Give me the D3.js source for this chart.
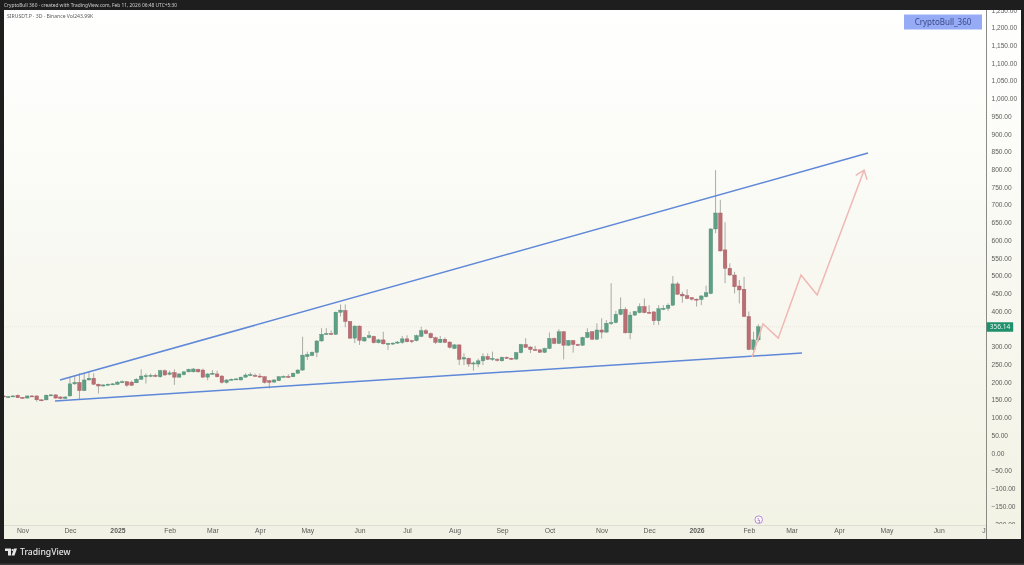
<!DOCTYPE html>
<html>
<head>
<meta charset="utf-8">
<script src="https://cdn.jsdelivr.net/npm/d3@7"></script>
<style>
  html, body { margin: 0; padding: 0; background: #1e1e1e; overflow: hidden; }
  svg { display: block; filter: blur(0.45px); font-family: "Noto Sans", "DejaVu Sans", sans-serif; }
</style>
</head>
<body>
<svg></svg>
<script>
let width = 1024
let height = 565

// 3D candles
let opens = [
  161,158,159,163,157,155,161,161,150,150,
  163,164,158,154,161,195,199,176,206,211,
  194,189,192,194,194,200,201,200,198,208,
  217,218,219,215,232,222,227,214,221,229,
  229,236,234,214,223,223,217,199,206,208,
  206,214,220,219,217,215,204,200,204,215,
  216,215,225,234,272,275,284,316,335,337,
  335,397,402,371,324,358,316,326,329,311,
  319,308,309,310,312,322,317,317,329,345,
  337,325,312,321,313,295,305,265,267,251,
  251,260,272,264,264,260,270,267,265,283,
  306,299,292,291,284,295,323,309,342,304,
  317,306,304,326,342,321,347,341,366,368,
  391,405,339,389,396,413,397,398,373,405,
  408,417,477,448,444,438,434,433,441,450,
  632,677,573,521,502,471,462,385,292,319
]
let highs = [
  163,161,163,165,158,162,163,162,151,165,
  166,165,160,160,215,220,225,225,229,225,
  196,194,196,197,203,205,203,204,211,236,
  224,224,224,235,236,232,236,225,230,238,
  240,238,238,225,234,232,220,208,210,211,
  215,225,227,224,224,217,206,208,217,219,
  222,227,236,328,286,287,318,352,352,346,
  399,419,419,372,360,360,328,344,331,322,
  342,311,312,316,330,332,319,334,356,350,
  340,328,330,326,315,307,306,281,269,258,
  266,281,281,286,268,272,272,269,285,308,
  324,301,302,293,297,340,326,349,344,319,
  319,308,328,352,344,366,380,375,479,401,
  439,411,398,401,422,436,417,400,417,417,
  422,499,483,455,462,440,436,445,472,634,
  798,714,651,535,511,488,497,399,342,363
]
let lows = [
  156,157,158,155,153,154,158,145,146,148,
  161,153,152,153,159,192,150,175,205,192,
  168,187,190,192,192,197,187,189,197,206,
  196,214,214,212,218,219,192,212,219,227,
  227,226,211,205,220,213,196,196,204,206,
  205,212,217,215,212,196,182,198,203,213,
  212,214,224,232,262,273,270,314,333,333,
  333,385,355,322,310,305,314,323,309,309,
  306,291,305,308,308,312,310,315,327,335,
  323,308,310,310,295,293,248,248,243,232,
  242,248,262,260,258,258,265,263,263,281,
  296,282,288,282,282,293,307,307,264,302,
  283,302,302,324,319,319,323,339,361,366,
  389,337,321,387,394,394,392,361,361,403,
  401,415,446,424,434,430,413,417,439,448,
  620,568,479,500,450,422,383,290,272,314
]
let closes = [
  158,159,161,156,155,161,160,150,149,163,
  164,155,154,158,195,199,176,206,211,194,
  189,192,194,195,200,201,191,191,208,217,
  218,219,217,232,220,226,214,223,229,236,
  237,229,214,223,225,215,199,206,208,209,
  214,220,221,217,215,199,199,206,215,216,
  215,225,234,276,278,284,316,335,337,335,
  397,403,371,324,358,318,326,331,311,319,
  308,309,310,313,322,314,315,331,345,337,
  325,312,321,312,298,305,264,269,251,254,
  260,272,264,267,262,270,267,266,283,306,
  298,292,291,284,295,323,309,342,304,317,
  306,304,326,340,321,347,341,366,368,391,
  405,339,389,399,413,396,395,373,407,408,
  417,477,448,443,436,434,432,443,452,632,
  677,570,521,502,469,460,385,292,319,356
]

let lastPrice = 356.14

// axis labels
let priceTicks = [-200,-150,-100,-50,0,50,100,150,200,250,300,400,450,500,550,600,650,700,750,800,850,900,950,1000,1050,1100,1150,1200,1250]
let timeTickIndex = [4,14,24,35,44,54,64,75,85,95,105,115,126,136,146,157,166,176,186,197,207]
let timeTickLabels = ["Nov","Dec","2025","Feb","Mar","Apr","May","Jun","Jul","Aug","Sep","Oct","Nov","Dec","2026","Feb","Mar","Apr","May","Jun","Jul"]

// drawings: [candle index, price]
let upperLine = [[11.9,206],[182.1,846]]
let lowerLine = [[10.85,147],[168.2,282]]
let projection = [[157.7,271],[160,364],[163.2,324],[168,502],[171.4,446],[181.3,798]]

let svg = d3.select("svg").attr("width", width).attr("height", height)

let xScale = d3.scaleLinear().domain([0, 159]).range([3.5, 758.3])
let yScale = d3.scaleLinear().domain([0, 1200]).range([453, 27.6])

let defs = svg.append("defs")
let grad = defs.append("linearGradient").attr("id", "bg").attr("x1", 0).attr("y1", 0).attr("x2", 0).attr("y2", 1)
grad.append("stop").attr("offset", "0%").attr("stop-color", "#ffffff")
grad.append("stop").attr("offset", "100%").attr("stop-color", "#f2f2e5")

defs.append("clipPath").attr("id", "pane").append("rect")
  .attr("x", 4).attr("y", 10).attr("width", 982.5).attr("height", 515)
defs.append("clipPath").attr("id", "priceClip").append("rect")
  .attr("x", 0).attr("y", 10).attr("width", 40).attr("height", 514)
defs.append("clipPath").attr("id", "timeClip").append("rect")
  .attr("x", 4).attr("y", 0).attr("width", 982).attr("height", 14)

// backgrounds
svg.append("rect").attr("width", width).attr("height", height).attr("fill", "#1e1e1e")
svg.append("rect").attr("x", 4).attr("y", 10).attr("width", 1017).attr("height", 515).attr("fill", "url(#bg)")
svg.append("rect").attr("x", 4).attr("y", 525).attr("width", 1017).attr("height", 14).attr("fill", "#f1f1e5")
svg.append("rect").attr("x", 0).attr("y", 563.5).attr("width", width).attr("height", 1.5).attr("fill", "#3a3a3a")

let pane = svg.append("g").attr("clip-path", "url(#pane)")

// last price line
pane.append("line")
  .attr("x1", 4).attr("x2", 986)
  .attr("y1", yScale(lastPrice)).attr("y2", yScale(lastPrice))
  .attr("stroke", "#e4e4da").attr("stroke-width", 0.8).attr("stroke-dasharray", "1,1")

let lineGen = d3.line().x((d) => xScale(d[0])).y((d) => yScale(d[1]))

// candles
let candles = pane.append("g").selectAll("g").data(closes).enter().append("g")

candles.append("line")
  .attr("x1", (d, i) => xScale(i)).attr("x2", (d, i) => xScale(i))
  .attr("y1", (d, i) => yScale(highs[i])).attr("y2", (d, i) => yScale(lows[i]))
  .attr("stroke", "#a3a39d").attr("stroke-width", 0.9)

candles.append("rect")
  .attr("x", (d, i) => xScale(i) - 1.8)
  .attr("width", 3.6)
  .attr("y", (d, i) => yScale(Math.max(opens[i], d)))
  .attr("height", (d, i) => Math.max(1, Math.abs(yScale(opens[i]) - yScale(d))))
  .attr("fill", (d, i) => d >= opens[i] ? "#5f9f85" : "#b96e74")
  .attr("stroke", (d, i) => d >= opens[i] ? "#4a8c72" : "#a85a62")
  .attr("stroke-width", 0.4)

// trend lines
pane.append("path").attr("d", lineGen(upperLine)).attr("fill", "none")
  .attr("stroke", "#5f88d8").attr("stroke-width", 1.5)
pane.append("path").attr("d", lineGen(lowerLine)).attr("fill", "none")
  .attr("stroke", "#5f88d8").attr("stroke-width", 1.5)

// projected path with arrow head
pane.append("path").attr("d", lineGen(projection)).attr("fill", "none")
  .attr("stroke", "#f0b8b4").attr("stroke-width", 1.5)

let tip = projection[projection.length - 1]
let prev = projection[projection.length - 2]
let tipX = xScale(tip[0])
let tipY = yScale(tip[1])
let angle = Math.atan2(tipY - yScale(prev[1]), tipX - xScale(prev[0]))
let headLen = 10
let wings = [angle + Math.PI - 0.65, angle + Math.PI + 0.65]
pane.append("path")
  .attr("d", "M" + (tipX + headLen * Math.cos(wings[0])) + "," + (tipY + headLen * Math.sin(wings[0]))
    + "L" + tipX + "," + tipY
    + "L" + (tipX + headLen * Math.cos(wings[1])) + "," + (tipY + headLen * Math.sin(wings[1])))
  .attr("fill", "none").attr("stroke", "#f0b8b4").attr("stroke-width", 1.5)

// price axis
let yAxis = d3.axisRight(yScale)
  .tickValues(priceTicks)
  .tickSize(0)
  .tickPadding(5)
  .tickFormat(d3.format(",.2f"))

let yG = svg.append("g").attr("transform", "translate(986.5,0)").call(yAxis)
yG.attr("clip-path", "url(#priceClip)")
yG.select(".domain").attr("stroke", "#8c8c86").attr("stroke-width", 1)
  .attr("d", "M0,10V539")
yG.selectAll("text").attr("font-size", 6.6).attr("fill", "#5c5c58").attr("font-family", "inherit")

svg.append("line").attr("x1", 986.5).attr("x2", 986.5).attr("y1", 10).attr("y2", 539)
  .attr("stroke", "#8c8c86").attr("stroke-width", 1)

// time axis
let xAxis = d3.axisBottom(xScale)
  .tickValues(timeTickIndex)
  .tickSize(0)
  .tickPadding(3)
  .tickFormat((d, i) => timeTickLabels[i])

let xG = svg.append("g").attr("transform", "translate(0,525)").attr("clip-path", "url(#timeClip)").call(xAxis)
xG.select(".domain").attr("stroke", "#c9c9bd").attr("stroke-width", 1).attr("d", "M4,0H986")
xG.selectAll("text")
  .attr("font-size", 6.8)
  .attr("fill", "#5c5c58")
  .attr("font-family", "inherit")
  .attr("font-weight", (d, i) => /^20/.test(timeTickLabels[i]) ? 700 : 400)

// last price tag
let tagY = yScale(lastPrice)
svg.append("rect").attr("x", 986.7).attr("y", tagY - 4.5).attr("width", 26.5).attr("height", 9.5)
  .attr("fill", "#1f8f6c").attr("rx", 0.5)
svg.append("text").attr("x", 1000).attr("y", tagY + 2.6).attr("text-anchor", "middle")
  .attr("font-size", 6.6).attr("fill", "#e8f5ef").text(d3.format(".2f")(lastPrice))

// name box
svg.append("rect").attr("x", 904).attr("y", 14.5).attr("width", 78).attr("height", 15).attr("fill", "#95abf6")
svg.append("text").attr("x", 943).attr("y", 25).attr("text-anchor", "middle")
  .attr("font-size", 8).attr("fill", "#3b4a86").text("CryptoBull_360")

// event marker
svg.append("circle").attr("cx", 758.7).attr("cy", 519.7).attr("r", 3.8)
  .attr("fill", "#fbf8fb").attr("stroke", "#b98bd8").attr("stroke-width", 1)
svg.append("text").attr("x", 758.7).attr("y", 521.8).attr("text-anchor", "middle")
  .attr("font-size", 5.5).attr("fill", "#8a5cb0").text("\u03df")

// header and legend
svg.append("text").attr("x", 4).attr("y", 6.8).attr("font-size", 4.85).attr("fill", "#cfcfcf")
  .text("CryptoBull 360 \u00b7 created with TradingView.com, Feb 11, 2026 06:48 UTC+5:30")
svg.append("text").attr("x", 7).attr("y", 17.8).attr("font-size", 5.1).attr("fill", "#5a5a5a")
  .text("SIRUSDT.P \u00b7 3D \u00b7 Binance  Vol243.99K")

// footer logo
let logo = svg.append("g").attr("fill", "#e6e6e6")
logo.append("path").attr("d", "M5,548.5H11V555.5H8V551H5Z")
logo.append("circle").attr("cx", 12.6).attr("cy", 550).attr("r", 1.1)
logo.append("path").attr("d", "M11.5,555.5L14,548.5H17L14.5,555.5Z")
svg.append("text").attr("x", 20).attr("y", 555.4).attr("font-size", 8.6).attr("font-weight", 500)
  .attr("fill", "#e6e6e6").text("TradingView")
</script>
</body>
</html>
